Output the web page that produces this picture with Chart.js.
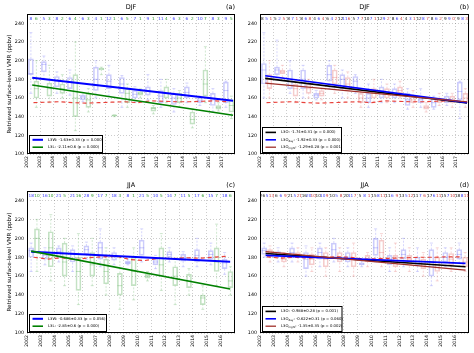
<!DOCTYPE html>
<html><head><meta charset="utf-8">
<script src="https://cdn.jsdelivr.net/npm/chart.js@4"></script>
<style>
html,body{margin:0;padding:0;background:#fff;}
#wrap{position:relative;width:474px;height:353px;overflow:hidden;background:#fff;}
.p{position:absolute;}
</style></head><body>
<div id="wrap">
<div class="p" style="left:0;top:0;width:240px;height:175px"><canvas id="ca" width="240" height="175"></canvas></div>
<div class="p" style="left:240px;top:0;width:234px;height:175px"><canvas id="cb" width="234" height="175"></canvas></div>
<div class="p" style="left:0;top:175px;width:240px;height:178px"><canvas id="cc" width="240" height="178"></canvas></div>
<div class="p" style="left:240px;top:175px;width:234px;height:178px"><canvas id="cd" width="234" height="178"></canvas></div>
</div>
<script>
// ---------------- DATA ----------------
const yearsDJF = [2002,2003,2004,2005,2006,2007,2008,2009,2010,2011,2012,2013,2014,2015,2016,2017];
const yearsJJA = [2002,2003,2004,2005,2006,2007,2008,2009,2010,2011,2012,2013,2014,2015,2016];
const yTicks = [100,120,140,160,180,200,220,240];
const yTitle = 'Retrieved surface-level VMR (ppbv)';

// box stats: [min, q1, median, q3, max]
// (a) DJF
const aL3W = [[165,185,186,202,230],[180,188,196,199,205],[165,172,178,183,188],[163,170,177,182,190],[156,158,161,163,166],[160,168,180,193,200],[162,170,178,185,195],[150,165,175,182,184],[155,160,164,168,172],[158,163,168,172,185],[150,155,162,168,180],[145,153,160,165,170],[155,160,166,172,176],[152,155,157,160,162],[145,152,158,165,170],[150,155,168,177,178]];
const aL3L = [[150,160,170,178,200],[155,162,170,176,195],[160,165,170,175,185],[125,140,160,185,220],[145,150,158,165,170],[185,190,191,192,193],[140,141,141,142,142],[150,155,165,170,175],[160,163,165,167,170],[143,146,149,150,152],[155,160,165,172,180],[150,155,160,165,168],[128,132,137,145,148],[155,162,175,190,215],[146,148,150,152,155],[138,145,152,158,162]];
const aCounts = [[8,6],[5,3],[8,2],[6,4],[6,3],[4,1],[12,1],[6,5],[7,1],[9,1],[11,4],[6,3],[6,2],[10,7],[8,3],[9,5]];
const aFitL3W = [181.8,157.0];
const aFitL3L = [174.0,141.5];
const aModel = [155,155.5,156,155,154.5,155,155.5,156,155,157,156.5,156,156,156.5,157,156];
const aLegend = ['L3W: -1.63\u00b10.33 (p = 0.000)','L3L: -2.11\u00b10.6 (p = 0.000)'];

// (b) DJF
const bDay = [[160,175,190,197,230],[180,185,190,193,222],[165,170,178,190,200],[160,170,180,190,195],[158,160,163,165,168],[170,178,185,195,200],[160,170,180,185,190],[165,170,178,183,185],[150,155,160,165,175],[155,160,168,172,180],[155,160,165,170,175],[148,152,158,165,170],[150,155,158,160,170],[148,150,155,160,162],[152,155,158,162,165],[138,158,167,177,178]];
const bNight = [[160,170,180,185,200],[182,186,188,190,195],[155,162,170,175,180],[160,165,170,175,180],[158,162,165,168,170],[165,175,182,190,195],[160,168,175,182,188],[150,155,160,165,170],[155,160,165,170,180],[155,160,165,170,175],[160,165,168,172,178],[150,155,158,162,168],[145,148,150,152,155],[152,155,158,160,165],[150,155,158,162,165],[150,155,160,165,170]];
const bCounts = [[8,5,1],[5,2,5],[8,7,1],[8,6,8],[4,6,4],[6,4,2],[12,11,6],[5,7,7],[10,7,1],[12,9,2],[8,6,4],[4,3,1],[12,8,7],[8,6,2],[9,9,0],[9,8,3]];
const bFitAll = [181.0,154.7];
const bFitDay = [183.8,155.0];
const bFitNight = [176.0,155.8];
const bModel = [155,155.5,156,155,154.5,155,155.5,156,155,157,156.5,156,156,156.5,157,156];
const bLegend = ['L3O: -1.74\u00b10.31 (p = 0.000)','L3O_{day}: -1.92\u00b10.33 (p = 0.000)','L3O_{night}: -1.29\u00b10.28 (p = 0.001)'];

// (c) JJA
const cL3W = [[165,180,187,190,195],[172,178,182,186,190],[175,180,186,190,192],[165,175,183,188,192],[178,183,188,192,196],[170,178,190,196,210],[172,177,180,185,190],[172,173,174,176,178],[175,182,190,198,210],[168,172,175,178,182],[175,180,183,186,190],[170,176,180,183,186],[170,175,182,188,200],[172,178,183,187,195],[162,168,174,178,185]];
const cL3L = [[165,185,200,210,220],[155,170,190,207,225],[150,160,175,195,200],[130,145,165,180,205],[150,160,172,185,200],[140,152,165,178,190],[125,140,150,163,180],[135,150,165,180,190],[155,158,160,162,165],[145,160,172,190,205],[130,150,160,170,178],[140,148,155,162,168],[125,130,137,140,150],[150,165,175,190,215],[140,148,155,165,170]];
const cCounts = [[18,10],[16,10],[21,5],[21,16],[28,9],[17,7],[18,3],[8,1],[21,5],[10,5],[14,7],[11,5],[17,6],[15,7],[18,6]];
const cFitL3W = [185.8,175.3];
const cFitL3L = [186.5,146.5];
const cModel = [180,178,179.5,177.5,179.5,180.5,181,177.5,176.5,179,178.5,179.5,179,180,181];
const cLegend = ['L3W: -0.686\u00b10.33 (p = 0.056)','L3L: -2.85\u00b10.6 (p = 0.000)'];

// (d) JJA
const dDay = [[180,183,187,190,195],[175,180,183,186,190],[175,180,185,190,195],[160,168,178,185,192],[170,178,185,190,195],[175,180,188,195,200],[170,175,180,185,190],[170,172,173,174,176],[175,182,190,200,210],[165,172,178,182,190],[170,178,183,188,200],[165,172,176,180,190],[150,160,175,188,195],[170,175,180,185,190],[170,178,183,188,195]];
const dNight = [[175,180,185,188,192],[170,175,178,182,185],[175,180,183,185,190],[165,172,178,183,190],[160,170,178,185,190],[165,175,180,185,190],[160,170,178,185,195],[170,175,178,182,185],[170,178,185,198,205],[165,170,175,182,195],[165,172,178,182,190],[160,168,172,178,185],[155,165,172,180,190],[165,172,178,184,190],[165,170,175,180,185]];
const dCounts = [[26,5,13],[6,6,9],[21,5,21],[16,20,10],[10,10,9],[10,5,8],[20,11,7],[5,8,1],[15,8,11],[11,6,9],[13,5,12],[11,7,6],[17,6,11],[15,7,10],[18,8,11]];
const dFitAll = [184.0,170.0];
const dFitDay = [182.0,173.5];
const dFitNight = [186.0,166.5];
const dModel = [180.5,179,180,179,180,180.5,180,178,178.5,179,179.5,180,180,180.5,180.5];
const dLegend = ['L3O: -0.988\u00b10.28 (p = 0.001)','L3O_{day}: -0.622\u00b10.31 (p = 0.060)','L3O_{night}: -1.35\u00b10.35 (p = 0.002)'];

// ---------------- RENDERING ----------------
const FONT = 'DejaVu Sans';
const C = {
  blue:'#0000ff', green:'#008000', black:'#000000', night:'#a0302a', model:'#e8413a',
  boxBlue:'rgba(120,120,245,0.38)', boxGreen:'rgba(100,180,100,0.38)', boxRed:'rgba(230,120,120,0.38)'
};

function boxSets(years, boxes, off, color) {
  const xs = years.map(y => y + off);
  const wh = [];
  boxes.forEach((b, i) => {
    wh.push({x:xs[i], y:b[0]}, {x:xs[i], y:b[1]}, {x:xs[i], y:null},
            {x:xs[i], y:b[3]}, {x:xs[i], y:b[4]}, {x:xs[i], y:null});
  });
  const caps = [];
  boxes.forEach((b, i) => { caps.push({x:xs[i], y:b[0]}, {x:xs[i], y:b[4]}); });
  return [
    {type:'line', data:wh, borderColor:color, borderWidth:0.8, borderDash:[2,1.5], pointRadius:0, spanGaps:false, order:9},
    {type:'bar', data:boxes.map((b, i) => ({x:xs[i], y:[b[1], b[3]]})), backgroundColor:'rgba(0,0,0,0)',
      borderColor:color, borderWidth:1, borderSkipped:false, barThickness:5, grouped:false, order:8},
    {type:'scatter', data:boxes.map((b, i) => ({x:xs[i], y:b[2]})), pointStyle:'line', pointRadius:2.5,
      pointBorderColor:color, pointBorderWidth:1, pointBackgroundColor:color, order:7},
    {type:'scatter', data:caps, pointStyle:'line', pointRadius:1.5,
      pointBorderColor:color, pointBorderWidth:0.8, pointBackgroundColor:color, order:7}
  ];
}

function drawRich(ctx, str, x, y, size) {
  const parts = str.split(/_\{([^}]*)\}/);
  let cx = x;
  parts.forEach((p, i) => {
    if (!p) return;
    if (i % 2 === 1) {
      ctx.font = (size * 0.7) + 'px "' + FONT + '"';
      ctx.fillText(p, cx, y + size * 0.3);
    } else {
      ctx.font = size + 'px "' + FONT + '"';
      ctx.fillText(p, cx, y);
    }
    cx += ctx.measureText(p).width;
  });
}

const decor = {
  id:'decor',
  afterDraw(chart, args, o) {
    const ctx = chart.ctx, ca = chart.chartArea, xs = chart.scales.x;
    ctx.save();
    ctx.strokeStyle = '#000'; ctx.lineWidth = 1; ctx.setLineDash([]);
    ctx.strokeRect(ca.left + 0.5, ca.top + 0.5, ca.right - ca.left - 1, ca.bottom - ca.top - 1);
    ctx.fillStyle = '#000'; ctx.textBaseline = 'middle';
    ctx.font = '6.5px "' + FONT + '"'; ctx.textAlign = 'center';
    ctx.fillText(o.title, (ca.left + ca.right) / 2, ca.top - o.titleGap);
    ctx.textAlign = 'right';
    ctx.fillText(o.tag, ca.right, ca.top - o.titleGap);
    ctx.font = '4.2px "' + FONT + '"'; ctx.textAlign = 'center';
    o.counts.forEach((row, i) => {
      row.forEach((n, k) => {
        ctx.fillStyle = o.countColors[k];
        ctx.fillText(String(n), xs.getPixelForValue(o.years[i] + o.countOffs[k]), ca.top + 5);
      });
    });
    const L = o.legend;
    const h = 7.4 * L.labels.length + 2.6;
    const lx = ca.left + 2, ly = ca.bottom - 2 - h;
    ctx.fillStyle = '#fff'; ctx.fillRect(lx, ly, L.w, h);
    ctx.strokeStyle = '#000'; ctx.lineWidth = 1;
    ctx.strokeRect(Math.round(lx) + 0.5, Math.round(ly) + 0.5, L.w, Math.round(h));
    L.labels.forEach((t, i) => {
      const ry = ly + 5.2 + i * 7.4;
      ctx.strokeStyle = L.colors[i]; ctx.lineWidth = L.widths[i];
      ctx.beginPath(); ctx.moveTo(lx + 3.5, ry); ctx.lineTo(lx + 14, ry); ctx.stroke();
      ctx.fillStyle = '#000'; ctx.textAlign = 'left'; ctx.textBaseline = 'middle';
      drawRich(ctx, t, lx + 19, ry, 3.8);
    });
    ctx.restore();
  }
};

function makeChart(id, P) {
  const datasets = [];
  P.boxes.forEach(s => datasets.push(...boxSets(P.years, s.data, s.off, s.color)));
  datasets.push({type:'line', data:P.years.map((y, i) => ({x:y + 0.5, y:P.model[i]})),
    borderColor:C.model, borderDash:[4,3], borderWidth:1.2, pointRadius:0, order:2});
  P.fits.forEach(f => datasets.push({type:'line',
    data:[{x:P.fitX[0], y:f.v[0]}, {x:P.fitX[1], y:f.v[1]}],
    borderColor:f.color, borderWidth:f.w, pointRadius:0, order:1}));
  const gridCol = 'rgba(0,0,0,0.4)';
  new Chart(document.getElementById(id), {
    type:'bar',
    data:{datasets},
    plugins:[decor],
    options:{
      responsive:false, animation:false, devicePixelRatio:1,
      layout:{padding:{top:P.padTop, right:P.padRight, left:0, bottom:0}},
      plugins:{
        legend:{display:false}, tooltip:{enabled:false},
        decor:{title:P.title, tag:P.tag, titleGap:P.titleGap, counts:P.counts, countColors:P.countColors,
               countOffs:P.countOffs, years:P.years, legend:P.legend}
      },
      scales:{
        x:{type:'linear', min:P.xmin, max:P.xmax, offset:false,
          afterBuildTicks:s => { s.ticks = P.years.map(v => ({value:v})); },
          afterFit:s => { s.height = P.xAxisH; },
          ticks:{font:{size:4.6, family:FONT}, color:'#000', minRotation:90, maxRotation:90, autoSkip:false,
                 padding:2, callback:v => String(v)},
          grid:{color:gridCol, lineWidth:0.5, drawTicks:false, offset:false},
          border:{display:false, dash:[1,2]}
        },
        y:{type:'linear', min:100, max:250,
          afterBuildTicks:s => { s.ticks = yTicks.map(v => ({value:v})); },
          afterFit:s => { s.width = P.yAxisW; },
          ticks:{font:{size:4.8, family:FONT}, color:'#000', padding:3, callback:v => String(v)},
          grid:{color:gridCol, lineWidth:0.5, drawTicks:false},
          border:{display:false, dash:[1,2]},
          title:{display:P.showYTitle, text:yTitle, color:'#000', font:{size:5.6, family:FONT}, padding:{top:6.5, bottom:0}}
        }
      }
    }
  });
}

makeChart('ca', {
  years:yearsDJF, xmin:2002, xmax:2018, padTop:14, padRight:4, yAxisW:27, xAxisH:21, showYTitle:true,
  title:'DJF', tag:'(a)', titleGap:7,
  boxes:[{data:aL3W, off:0.3, color:C.boxBlue}, {data:aL3L, off:0.72, color:C.boxGreen}],
  model:aModel, fitX:[2002.4, 2017.85],
  fits:[{v:aFitL3W, color:C.blue, w:2}, {v:aFitL3L, color:C.green, w:1.6}],
  counts:aCounts, countColors:['#3b3bff','#2e9a2e'], countOffs:[0.3,0.72],
  legend:{w:73, labels:aLegend, colors:[C.blue, C.green], widths:[2,1.6]}
});
makeChart('cb', {
  years:yearsDJF, xmin:2002, xmax:2018, padTop:14, padRight:5, yAxisW:20, xAxisH:21, showYTitle:false,
  title:'DJF', tag:'(b)', titleGap:7,
  boxes:[{data:bDay, off:0.3, color:C.boxBlue}, {data:bNight, off:0.72, color:C.boxRed}],
  model:bModel, fitX:[2002.4, 2017.85],
  fits:[{v:bFitNight, color:C.night, w:1.3}, {v:bFitDay, color:C.blue, w:1.6}, {v:bFitAll, color:C.black, w:1.6}],
  counts:bCounts, countColors:['#222','#3b3bff','#d04040'], countOffs:[0.18,0.5,0.82],
  legend:{w:79, labels:bLegend, colors:[C.black, C.blue, C.night], widths:[1.6,1.6,1.3]}
});
makeChart('cc', {
  years:yearsJJA, xmin:2002, xmax:2017.05, padTop:16, padRight:4, yAxisW:27, xAxisH:20, showYTitle:true,
  title:'JJA', tag:'(c)', titleGap:6,
  boxes:[{data:cL3W, off:0.3, color:C.boxBlue}, {data:cL3L, off:0.72, color:C.boxGreen}],
  model:cModel, fitX:[2002.3, 2016.7],
  fits:[{v:cFitL3L, color:C.green, w:1.6}, {v:cFitL3W, color:C.blue, w:2}],
  counts:cCounts, countColors:['#3b3bff','#2e9a2e'], countOffs:[0.3,0.72],
  legend:{w:77, labels:cLegend, colors:[C.blue, C.green], widths:[2,1.6]}
});
makeChart('cd', {
  years:yearsJJA, xmin:2002, xmax:2017, padTop:16, padRight:5, yAxisW:20, xAxisH:20, showYTitle:false,
  title:'JJA', tag:'(d)', titleGap:6,
  boxes:[{data:dDay, off:0.3, color:C.boxBlue}, {data:dNight, off:0.72, color:C.boxRed}],
  model:dModel, fitX:[2002.4, 2016.75],
  fits:[{v:dFitNight, color:C.night, w:1.3}, {v:dFitDay, color:C.blue, w:1.6}, {v:dFitAll, color:C.black, w:1.6}],
  counts:dCounts, countColors:['#222','#3b3bff','#d04040'], countOffs:[0.18,0.5,0.82],
  legend:{w:79.5, labels:dLegend, colors:[C.black, C.blue, C.night], widths:[1.6,1.6,1.3]}
});
</script>
</body></html>
